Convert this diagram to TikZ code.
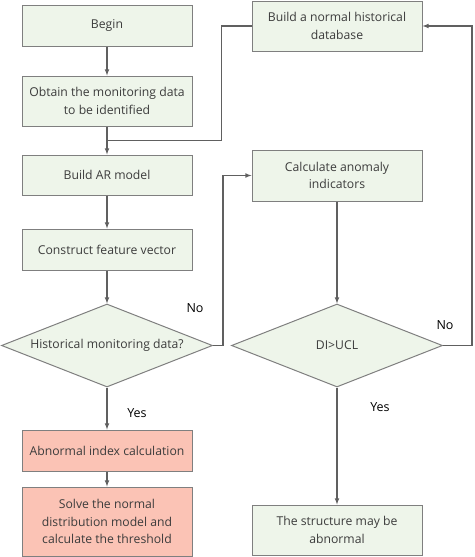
\documentclass[tikz,border=0pt]{standalone}
\usepackage{fontspec}
\setmainfont{Open Sans}
\usetikzlibrary{positioning}
\usetikzlibrary{shapes.geometric}
\usetikzlibrary{calc}
\definecolor{boxgreen}{HTML}{EEF5EA}
\definecolor{boxpink}{HTML}{FBC3B5}
\definecolor{edgegray}{HTML}{7F7F7F}
\definecolor{linegray}{HTML}{606060}
\definecolor{txtgray}{HTML}{3C3C3C}
\tikzset{
	process/.style={draw=edgegray, line width=1pt, rectangle, inner sep=2pt, minimum width=170pt, fill=boxgreen, text=txtgray, align=center, font=\fontsize{12.2}{17.5}\selectfont},
	warn/.style={process, fill=boxpink},
	decision/.style={draw=edgegray, line width=1pt, diamond, aspect=2.54, inner sep=0pt, minimum width=211pt, minimum height=83pt, fill=boxgreen, text=txtgray, font=\fontsize{12.2}{17.5}\selectfont},
	% yes / no marks beside the branches
	lbl/.style={inner sep=0pt, font=\fontsize{12.5}{14}\selectfont},
}

\begin{document}
\begin{tikzpicture}[node distance=74pt]
	\useasboundingbox (0,0) rectangle (474pt,-557pt);
	
	\node (begin) [process, minimum height=41pt] at (107pt,-25.5pt) {Begin};
	\node (obtain) [process, minimum height=50pt, below of=begin, yshift=-1.5pt] {Obtain the monitoring data\\to be identified};
	\node (ar) [process, minimum height=40pt, below of=obtain] {Build AR model};
	\node (feat) [process, minimum height=41pt, below of=ar, yshift=-0.5pt] {Construct feature vector};
	\node (hist) [decision, below of=feat, yshift=-22pt] {Historical monitoring data?};
	\node (abn) [warn, minimum height=41pt, below of=hist, yshift=-31pt] {Abnormal index calculation};
	\node (solve) [warn, minimum height=69pt, below of=abn, yshift=3pt] {Solve the normal\\distribution model and\\calculate the threshold};
	
	\node (db) [process, minimum height=50pt, right of=begin, xshift=156pt, yshift=-0.5pt] {Build a normal historical\\database};
	\node (calc) [process, minimum height=51pt, below of=db, yshift=-75.5pt] {Calculate anomaly\\indicators};
	\node (di) [decision, below of=calc, yshift=-96pt] {DI>UCL};
	\node (res) [process, minimum height=50pt, below of=di, yshift=-110.5pt] {The structure may be\\abnormal};
	
	\coordinate (join) at ($(obtain.south)!0.5!(ar.north)$);
	
	\node (no1) [lbl] at ($(hist.east)+(-18pt,37pt)$) {No};
	\node (yes1) [lbl] at ($(hist.south)+(30pt,-26pt)$) {Yes};
	\node (no2) [lbl] at ($(di.east)+(2pt,20pt)$) {No};
	\node (yes2) [lbl] at ($(di.south)+(43pt,-20pt)$) {Yes};
	
	\begin{scope}[line width=1.1pt, linegray, ->, >=latex]
		\draw (begin) -- (obtain);
		\draw (obtain) -- (ar);
		\draw (ar) -- (feat);
		\draw (feat) -- (hist);
		\draw (hist) -- (abn);
		\draw (abn) -- (solve);
		
		\draw[-] (db.west) -- ++(-30pt,0) |- (join);
		\draw (hist.east) -- ++(10pt,0) |- (calc.west);
		\draw (calc) -- (di);
		\draw (di) -- (res);
		\draw (di.east) -- ++(29pt,0) |- (db.east);
	\end{scope}
	
\end{tikzpicture}
\end{document}
